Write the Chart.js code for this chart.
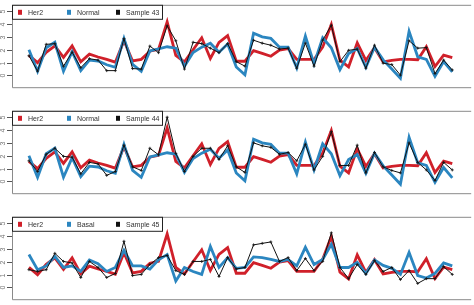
<!DOCTYPE html>
<html>
<head>
<meta charset="utf-8">
<script src="https://cdn.jsdelivr.net/npm/chart.js@4.4.1/dist/chart.umd.min.js"></script>
<style>
  html, body { margin: 0; padding: 0; background: #fff; overflow: hidden; }
  body { width: 474px; height: 305px; position: relative; }
  canvas { position: absolute; left: 0; }
</style>
</head>
<body>
<canvas id="p1" width="474" height="93" style="top:0px"></canvas>
<canvas id="p2" width="474" height="93" style="top:106px"></canvas>
<canvas id="p3" width="474" height="93" style="top:212px"></canvas>
<script>
// samples along the x axis (1..50)
const samples = Array.from({ length: 50 }, (_, i) => i + 1);
const tickValues = [0, 1, 2, 3, 4, 5];
const tickLabels = ['0', '1', '2', '3', '4', '5'];

// centroid profiles
const her2 = [1.56, 0.99, 1.8, 2.3, 1.4, 2.3, 1.05, 1.65, 1.43, 1.25,
              1.03, 2.7, 1.12, 1.25, 1.88, 2.03, 4.17, 1.56, 1.05, 2.0,
              2.93, 1.32, 2.57, 3.1, 1.1, 1.1, 1.93, 1.72, 1.49, 1.97,
              2.09, 1.24, 1.24, 1.24, 2.2, 3.97, 1.18, 0.66, 2.54, 1.16,
              2.16, 1.05, 1.17, 1.24, 1.24, 1.22, 2.24, 0.69, 1.58, 1.38];
const normal = [2.0, 0.32, 2.15, 2.58, 0.32, 1.85, 0.37, 1.18, 1.12, 0.83,
                0.63, 2.88, 0.86, 0.32, 1.9, 2.06, 2.23, 2.12, 0.71, 1.78,
                2.2, 2.5, 1.8, 2.45, 0.65, 0.05, 3.28, 3.0, 2.88, 2.2,
                2.2, 0.58, 3.07, 0.9, 2.93, 2.15, 0.45, 1.7, 2.1, 0.63,
                2.2, 1.21, 0.5, -0.22, 3.43, 1.45, 1.25, -0.07, 1.08, 0.28];
const basal = [2.56, 1.38, 1.67, 2.42, 1.55, 1.67, 1.24, 2.14, 1.85, 1.24,
               1.55, 2.89, 1.67, 1.67, 1.43, 2.14, 2.56, 0.49, 1.55, 1.24,
               1.01, 3.19, 1.55, 2.32, 1.48, 1.55, 2.37, 2.32, 2.18, 2.02,
               2.18, 1.67, 3.12, 1.78, 2.18, 3.36, 1.55, 1.55, 1.95, 1.08,
               2.14, 1.71, 1.48, 1.01, 2.72, 0.92, 0.73, 1.08, 1.9, 1.67];

// individual samples
const sample43 = [1.53, 0.33, 2.42, 2.47, 0.72, 1.81, 0.6, 1.3, 1.19, 0.37,
                  0.37, 2.86, 0.53, 0.49, 2.28, 1.77, 3.86, 2.7, 0.49, 2.58,
                  2.47, 2.12, 1.77, 2.47, 1.07, 0.72, 2.74, 2.51, 2.35, 2.05,
                  2.12, 0.56, 2.51, 0.72, 2.74, 3.91, 1.07, 1.95, 2.05, 0.56,
                  2.35, 0.95, 0.84, 0.02, 2.7, 2.12, 2.16, 0.14, 1.19, 0.42];
const sample44 = [1.6, 0.77, 2.11, 2.58, 1.95, 1.88, 0.59, 1.48, 1.36, 0.47,
                  0.77, 2.82, 1.13, 0.85, 2.58, 2.07, 5.0, 2.18, 0.77, 1.95,
                  2.58, 2.58, 1.71, 2.77, 1.13, 0.7, 3.0, 2.77, 2.65, 2.11,
                  2.25, 1.6, 2.89, 0.89, 1.95, 3.87, 1.24, 1.24, 2.82, 0.66,
                  2.25, 1.13, 0.85, 0.66, 3.0, 1.48, 0.89, 0.07, 1.48, 0.89];
const sample45 = [1.38, 1.24, 1.38, 2.65, 2.02, 1.9, 0.77, 2.02, 1.55, 0.77,
                  1.08, 3.59, 0.92, 1.01, 1.78, 2.32, 2.49, 1.31, 1.01, 2.02,
                  2.02, 2.18, 0.85, 2.32, 1.43, 1.55, 3.31, 3.43, 3.54, 2.02,
                  2.32, 1.31, 2.25, 1.31, 2.02, 4.25, 1.55, 0.68, 1.78, 1.01,
                  2.09, 1.24, 1.55, 0.61, 1.31, 0.31, 0.68, 0.68, 1.62, 1.01];

const RED = '#d0202a';
const BLUE = '#2b86c0';
const BLACK = '#111111';

function pts(values) {
    return values.map((v, i) => ({ x: samples[i], y: v }));
}

// box (right side falls off the crop), outward ticks, rotated tick labels, legend
const panelDecor = {
    id: 'panelDecor',
    afterDatasetsDraw(chart) {
        const ctx = chart.ctx;
        const a = chart.chartArea;
        const yScale = chart.scales.y;
        ctx.save();
        ctx.strokeStyle = '#8a8a8a';
        ctx.lineWidth = 1;
        ctx.beginPath();
        ctx.moveTo(a.right + 2, a.top + 0.5);
        ctx.lineTo(a.left + 0.5, a.top + 0.5);
        ctx.lineTo(a.left + 0.5, a.bottom - 0.5);
        ctx.lineTo(a.right + 2, a.bottom - 0.5);
        ctx.stroke();

        ctx.strokeStyle = '#555';
        ctx.fillStyle = '#777';
        ctx.font = '7px "Liberation Sans", Arial, sans-serif';
        ctx.textAlign = 'center';
        ctx.textBaseline = 'alphabetic';
        tickValues.forEach((v, i) => {
            const y = Math.round(yScale.getPixelForValue(v)) + 0.5;
            ctx.beginPath();
            ctx.moveTo(a.left - 5, y);
            ctx.lineTo(a.left, y);
            ctx.stroke();
            ctx.save();
            ctx.translate(5, y);
            ctx.rotate(-Math.PI / 2);
            ctx.fillText(tickLabels[i], 0, 0);
            ctx.restore();
        });

        // legend
        const lx = a.left + 0.5, ly = a.top + 0.5, lw = 150, lh = 14;
        ctx.fillStyle = '#fff';
        ctx.fillRect(lx, ly, lw, lh);
        ctx.strokeStyle = '#222';
        ctx.strokeRect(lx, ly, lw, lh);
        ctx.font = '7px "Liberation Sans", Arial, sans-serif';
        ctx.textAlign = 'left';
        ctx.textBaseline = 'middle';
        const slots = [6, 55, 104];
        chart.data.datasets.forEach((ds, i) => {
            const x = a.left + slots[i];
            ctx.fillStyle = ds.borderColor;
            ctx.fillRect(x, a.top + 5, 4, 5);
            ctx.fillStyle = '#333';
            ctx.fillText(ds.label, x + 10, a.top + 8);
        });
        ctx.restore();
    }
};

function makePanel(id, ref, refName, sample, sampleName) {
    new Chart(document.getElementById(id), {
        type: 'line',
        data: {
            datasets: [
                { label: 'Her2', data: pts(her2), borderColor: RED, borderWidth: 2.8, pointRadius: 0, order: 3 },
                { label: refName, data: pts(ref), borderColor: BLUE, borderWidth: 2.8, pointRadius: 0, order: 2 },
                { label: sampleName, data: pts(sample), borderColor: BLACK, borderWidth: 1,
                  pointStyle: 'cross', pointRadius: 1.5, pointBorderWidth: 0.8, pointBorderColor: BLACK, order: 1 }
            ]
        },
        options: {
            animation: false,
            responsive: false,
            layout: { padding: 0 },
            elements: { line: { tension: 0, borderJoinStyle: 'miter' } },
            scales: {
                x: {
                    type: 'linear',
                    min: -0.96,
                    max: 51.96,
                    display: false
                },
                y: {
                    min: -1,
                    max: 5.5,
                    ticks: { display: false },
                    grid: { display: false },
                    border: { display: false },
                    afterFit: s => { s.width = 12; }
                }
            },
            plugins: {
                legend: { display: false },
                tooltip: { enabled: false }
            }
        },
        plugins: [panelDecor]
    });
}

makePanel('p1', normal, 'Normal', sample43, 'Sample 43');
makePanel('p2', normal, 'Normal', sample44, 'Sample 44');
makePanel('p3', basal, 'Basal', sample45, 'Sample 45');
</script>
</body>
</html>
